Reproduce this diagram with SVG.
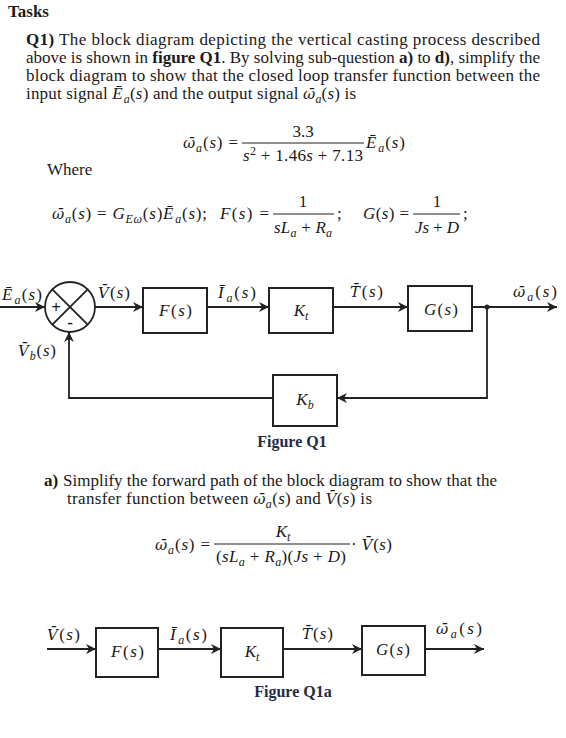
<svg xmlns="http://www.w3.org/2000/svg" width="566" height="738" viewBox="0 0 566 738">
<style>
.t{font-family:"Liberation Serif","DejaVu Serif",serif;font-size:17px;fill:#1a1a1a}
.b{font-weight:bold}
.i{font-style:italic}
.s{font-size:12px;font-style:italic}
.d{font-family:"DejaVu Serif","Liberation Serif",serif;font-style:italic;font-size:15px}
.m{font-family:"Liberation Serif","DejaVu Serif",serif;font-size:17px;fill:#1a1a1a}
.cap{font-family:"Liberation Serif","DejaVu Serif",serif;font-size:16px;font-weight:bold;fill:#1f2b45}
.box{fill:#fff;stroke:#222;stroke-width:2}
.ln{fill:none;stroke:#222;stroke-width:1.8}
.bar{stroke:#222;stroke-width:1.2}
</style>
<defs>
<marker id="ar" viewBox="0 0 10 10" refX="10" refY="5" markerWidth="10" markerHeight="10" markerUnits="userSpaceOnUse" orient="auto">
<path d="M0,0 L10,5 L0,10 L3,5 z" fill="#222"/>
</marker>
</defs>
<rect width="566" height="738" fill="#fff"/>

<!-- Header text -->
<g id="header">
<text class="t b" x="8" y="17">Tasks</text>
<text class="t" x="26" y="45" textLength="514"><tspan class="b">Q1)</tspan> The block diagram depicting the vertical casting process described</text>
<text class="t" x="26" y="63" textLength="514">above is shown in <tspan class="b">figure Q1</tspan>. By solving sub-question <tspan class="b">a)</tspan> to <tspan class="b">d)</tspan>, simplify the</text>
<text class="t" x="26" y="81" textLength="514">block diagram to show that the closed loop transfer function between the</text>
<text class="t" x="26" y="99" textLength="330">input signal <tspan class="i">Ē</tspan><tspan class="s" dx="1" dy="4">a</tspan><tspan dy="-4">(</tspan><tspan class="i">s</tspan>) and the output signal <tspan class="d">ω̄</tspan><tspan class="s" dy="4">a</tspan><tspan dy="-4">(</tspan><tspan class="i">s</tspan>) is</text>
</g>

<!-- Equation 1 -->
<g id="eq1">
<text class="m" x="183" y="148" textLength="55"><tspan class="d">ω̄</tspan><tspan class="s" dy="4">a</tspan><tspan dy="-4">(</tspan><tspan class="i">s</tspan>) =</text>
<text class="m" x="303" y="137" text-anchor="middle">3.3</text>
<line class="bar" x1="242" y1="143" x2="364" y2="143"/>
<text class="m" x="243" y="161" textLength="120"><tspan class="i">s</tspan><tspan font-size="12" dy="-6">2</tspan><tspan dy="6"> + 1.46</tspan><tspan class="i">s</tspan> + 7.13</text>
<text class="m" x="366" y="148" textLength="39"><tspan class="i">Ē</tspan><tspan class="s" dx="1" dy="4">a</tspan><tspan dy="-4">(</tspan><tspan class="i">s</tspan>)</text>
</g>

<text class="t" x="47" y="175">Where</text>

<!-- Equation 2 -->
<g id="eq2">
<text class="m" x="52" y="219" textLength="155"><tspan class="d">ω̄</tspan><tspan class="s" dy="4">a</tspan><tspan dy="-4">(</tspan><tspan class="i">s</tspan>) = <tspan class="i">G</tspan><tspan class="s" dy="4">Eω</tspan><tspan dy="-4">(</tspan><tspan class="i">s</tspan>)<tspan class="i">Ē</tspan><tspan class="s" dx="1" dy="4">a</tspan><tspan dy="-4">(</tspan><tspan class="i">s</tspan>);</text>
<text class="m" x="220" y="219" textLength="49"><tspan class="i">F</tspan>(<tspan class="i">s</tspan>) =</text>
<text class="m" x="303" y="207" text-anchor="middle">1</text>
<line class="bar" x1="273" y1="214" x2="334" y2="214"/>
<text class="m" x="274" y="233" textLength="58"><tspan class="i">sL</tspan><tspan class="s" dy="4">a</tspan><tspan dy="-4"> + </tspan><tspan class="i">R</tspan><tspan class="s" dy="4">a</tspan></text>
<text class="m" x="337" y="219">;</text>
<text class="m" x="363" y="219" textLength="46"><tspan class="i">G</tspan>(<tspan class="i">s</tspan>) =</text>
<text class="m" x="437" y="207" text-anchor="middle">1</text>
<line class="bar" x1="413" y1="214" x2="460" y2="214"/>
<text class="m" x="415" y="233" textLength="44"><tspan class="i">Js</tspan> + <tspan class="i">D</tspan></text>
<text class="m" x="463" y="219">;</text>
</g>

<!-- Figure Q1 -->
<g id="sum">
<circle cx="70" cy="307" r="25" fill="#fff" stroke="#222" stroke-width="1.8"/>
<line class="ln" x1="52.3" y1="289.3" x2="87.7" y2="324.7"/>
<line class="ln" x1="87.7" y1="289.3" x2="52.3" y2="324.7"/>
<text class="m b" x="56" y="313" text-anchor="middle" font-size="16">+</text>
<text class="m b" x="70" y="328" text-anchor="middle" font-size="16">-</text>
</g>
<g id="F1"><rect class="box" x="143" y="288" width="64" height="45"/><text class="m" x="159" y="316" textLength="33"><tspan class="i">F</tspan>(<tspan class="i">s</tspan>)</text></g>
<g id="Kt1"><rect class="box" x="269" y="288" width="64" height="45"/><text class="m" x="301" y="316" text-anchor="middle"><tspan class="i">K</tspan><tspan class="s" dy="4">t</tspan></text></g>
<g id="G1"><rect class="box" x="408" y="286" width="64" height="45"/><text class="m" x="424" y="315" textLength="34"><tspan class="i">G</tspan>(<tspan class="i">s</tspan>)</text></g>
<g id="Kb1"><rect class="box" x="273" y="375" width="64" height="51"/><text class="m" x="305" y="405" text-anchor="middle"><tspan class="i">K</tspan><tspan class="s" dy="4">b</tspan></text></g>

<g id="connectors1">
<line class="ln" x1="0" y1="307" x2="45" y2="307" marker-end="url(#ar)"/>
<line class="ln" x1="95" y1="307" x2="143" y2="307" marker-end="url(#ar)"/>
<line class="ln" x1="207" y1="307" x2="269" y2="307" marker-end="url(#ar)"/>
<line class="ln" x1="333" y1="307" x2="408" y2="307" marker-end="url(#ar)"/>
<line class="ln" x1="472" y1="307" x2="557" y2="307" marker-end="url(#ar)"/>
<circle cx="487" cy="307" r="2.5" fill="#222"/>
<polyline class="ln" points="487,307 487,398 337,398" marker-end="url(#ar)"/>
<polyline class="ln" points="273,398 69,398 69,332" marker-end="url(#ar)"/>
</g>

<g id="labels1">
<text class="m" x="2" y="300" textLength="40"><tspan class="i">Ē</tspan><tspan class="s" dx="1" dy="4">a</tspan><tspan dy="-4">(</tspan><tspan class="i">s</tspan>)</text>
<text class="m" x="98" y="298" textLength="32"><tspan class="d">V̄</tspan>(<tspan class="i">s</tspan>)</text>
<text class="m" x="218" y="298" textLength="38"><tspan class="i">Ī</tspan><tspan class="s" dx="1" dy="4">a</tspan><tspan dy="-4">(</tspan><tspan class="i">s</tspan>)</text>
<text class="m" x="350" y="297" textLength="33"><tspan class="d">T̄</tspan>(<tspan class="i">s</tspan>)</text>
<text class="m" x="513" y="297" textLength="44"><tspan class="d">ω̄</tspan><tspan class="s" dy="4">a</tspan><tspan dy="-4">(</tspan><tspan class="i">s</tspan>)</text>
<text class="m" x="18" y="356" textLength="38"><tspan class="d">V̄</tspan><tspan class="s" dy="4">b</tspan><tspan dy="-4">(</tspan><tspan class="i">s</tspan>)</text>
</g>

<text class="cap" x="292" y="447" text-anchor="middle">Figure Q1</text>

<!-- Part a -->
<g id="parta">
<text class="t b" x="44" y="486">a)</text>
<text class="t" x="63" y="486" textLength="434">Simplify the forward path of the block diagram to show that the</text>
<text class="t" x="67" y="504" textLength="305">transfer function between <tspan class="d">ω̄</tspan><tspan class="s" dy="4">a</tspan><tspan dy="-4">(</tspan><tspan class="i">s</tspan>) and <tspan class="d">V̄</tspan>(<tspan class="i">s</tspan>) is</text>
</g>

<g id="eqa">
<text class="m" x="155" y="550" textLength="55"><tspan class="d">ω̄</tspan><tspan class="s" dy="4">a</tspan><tspan dy="-4">(</tspan><tspan class="i">s</tspan>) =</text>
<text class="m" x="283" y="537" text-anchor="middle"><tspan class="i">K</tspan><tspan class="s" dy="4">t</tspan></text>
<line class="bar" x1="214" y1="544" x2="350" y2="544"/>
<text class="m" x="216" y="562" textLength="130">(<tspan class="i">sL</tspan><tspan class="s" dy="4">a</tspan><tspan dy="-4"> + </tspan><tspan class="i">R</tspan><tspan class="s" dy="4">a</tspan><tspan dy="-4">)(</tspan><tspan class="i">Js</tspan> + <tspan class="i">D</tspan>)</text>
<text class="m" x="351" y="550" textLength="41">· <tspan class="d">V̄</tspan>(<tspan class="i">s</tspan>)</text>
</g>

<!-- Figure Q1a -->
<g id="F2"><rect class="box" x="96" y="628" width="62" height="49"/><text class="m" x="111" y="657" textLength="33"><tspan class="i">F</tspan>(<tspan class="i">s</tspan>)</text></g>
<g id="Kt2"><rect class="box" x="221" y="628" width="62" height="49"/><text class="m" x="252" y="657" text-anchor="middle"><tspan class="i">K</tspan><tspan class="s" dy="4">t</tspan></text></g>
<g id="G2"><rect class="box" x="362" y="626" width="63" height="49"/><text class="m" x="376" y="655" textLength="34"><tspan class="i">G</tspan>(<tspan class="i">s</tspan>)</text></g>

<g id="connectors2">
<line class="ln" x1="47" y1="649" x2="96" y2="649" marker-end="url(#ar)"/>
<line class="ln" x1="158" y1="649" x2="221" y2="649" marker-end="url(#ar)"/>
<line class="ln" x1="283" y1="649" x2="362" y2="649" marker-end="url(#ar)"/>
<line class="ln" x1="425" y1="649" x2="484" y2="649" stroke-width="2.4" marker-end="url(#ar)"/>
</g>

<g id="labels2">
<text class="m" x="47" y="640" textLength="33"><tspan class="d">V̄</tspan>(<tspan class="i">s</tspan>)</text>
<text class="m" x="170" y="640" textLength="37"><tspan class="i">Ī</tspan><tspan class="s" dx="1" dy="4">a</tspan><tspan dy="-4">(</tspan><tspan class="i">s</tspan>)</text>
<text class="m" x="302" y="639" textLength="31"><tspan class="d">T̄</tspan>(<tspan class="i">s</tspan>)</text>
<text class="m" x="436" y="634" textLength="46"><tspan class="d">ω̄</tspan><tspan class="s" dy="4">a</tspan><tspan dy="-4">(</tspan><tspan class="i">s</tspan>)</text>
</g>

<text class="cap" x="293" y="697" text-anchor="middle">Figure Q1a</text>
</svg>
